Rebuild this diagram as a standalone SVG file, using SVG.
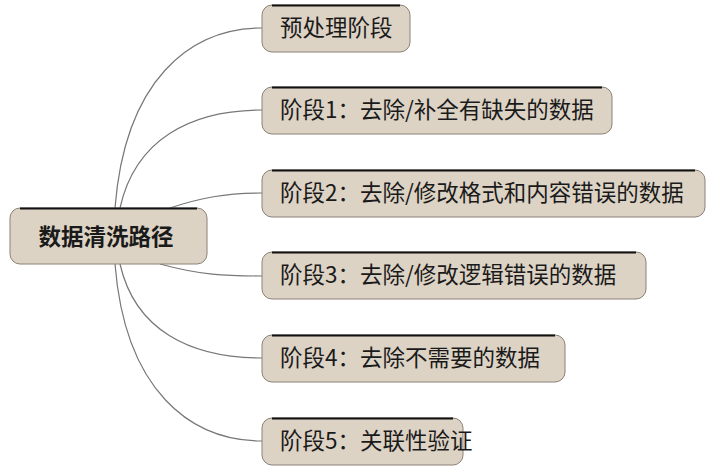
<svg xmlns="http://www.w3.org/2000/svg" width="716" height="474" viewBox="0 0 716 474">
<style>
.n{fill:#ddd3c5;stroke:#8a8174;stroke-width:1}
.t{fill:#111;stroke:#111;stroke-width:2}
.c{fill:none;stroke:#777;stroke-width:1.2}
text{font-family:"Noto Sans CJK SC","Liberation Sans",sans-serif;font-size:22.5px;fill:#1a1a1a}
</style>
<rect width="716" height="474" fill="#fff"/>
<g id="connectors">
<path class="c" d="M115,208 C125,80 190,28 262,28"/>
<path class="c" d="M120,208 C135,140 190,110 262,110"/>
<path class="c" d="M170,208 C200,198 225,193 262,193"/>
<path class="c" d="M160,264 C200,275 225,276 262,276"/>
<path class="c" d="M120,264 C135,330 190,358 262,358"/>
<path class="c" d="M115,264 C125,390 190,441 262,441"/>
</g>
<g id="root"><rect class="n" x="10" y="208" width="197" height="56" rx="10"/><line class="t" x1="20" y1="208.5" x2="197" y2="208.5"/><text x="106" y="245" text-anchor="middle" font-weight="bold" font-size="23">数据清洗路径</text></g>
<g id="n0"><rect class="n" x="262" y="5" width="148" height="47" rx="10"/><line class="t" x1="272" y1="5.5" x2="400" y2="5.5"/><text x="280" y="36">预处理阶段</text></g>
<g id="n1"><rect class="n" x="262" y="87" width="350" height="47" rx="10"/><line class="t" x1="272" y1="87.5" x2="602" y2="87.5"/><text x="280" y="118">阶段1：去除/补全有缺失的数据</text></g>
<g id="n2"><rect class="n" x="262" y="170" width="443" height="47" rx="10"/><line class="t" x1="272" y1="170.5" x2="695" y2="170.5"/><text x="280" y="201">阶段2：去除/修改格式和内容错误的数据</text></g>
<g id="n3"><rect class="n" x="262" y="252" width="384" height="47" rx="10"/><line class="t" x1="272" y1="252.5" x2="636" y2="252.5"/><text x="280" y="283">阶段3：去除/修改逻辑错误的数据</text></g>
<g id="n4"><rect class="n" x="262" y="335" width="303" height="47" rx="10"/><line class="t" x1="272" y1="335.5" x2="555" y2="335.5"/><text x="280" y="366">阶段4：去除不需要的数据</text></g>
<g id="n5"><rect class="n" x="262" y="418" width="201" height="47" rx="10"/><line class="t" x1="272" y1="418.5" x2="453" y2="418.5"/><text x="280" y="449">阶段5：关联性验证</text></g>
</svg>
